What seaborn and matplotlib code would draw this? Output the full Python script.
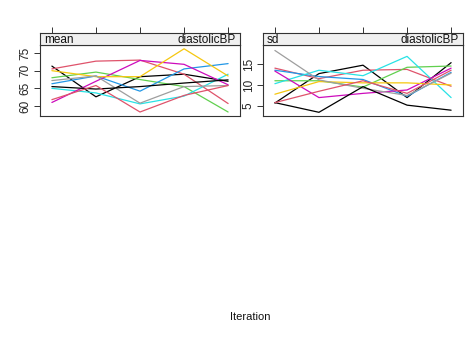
import numpy as np
import pandas as pd
import matplotlib
matplotlib.use("Agg")
import matplotlib.pyplot as plt
import seaborn as sns

# Trace of chain statistics for the imputed variable over the iterations
iterations = [1, 2, 3, 4, 5]
chains = list(range(1, 11))
chain_colors = ["#000000", "#DF536B", "#61D04F", "#2297E6", "#28E2E5",
                "#CD0BBC", "#F5C710", "#9E9E9E", "#000000", "#DF536B"]

mean_values = [
    [71.3, 62.6, 68.3, 69.0, 67.0],
    [70.5, 72.7, 73.0, 69.0, 60.7],
    [68.0, 69.6, 67.5, 65.5, 58.3],
    [66.3, 68.5, 64.2, 70.5, 72.0],
    [65.0, 63.7, 60.6, 62.8, 69.0],
    [61.0, 67.0, 72.9, 71.8, 66.0],
    [70.0, 68.3, 68.3, 76.2, 68.5],
    [67.2, 68.5, 60.8, 65.5, 65.8],
    [65.5, 64.8, 65.5, 66.5, 67.4],
    [61.8, 65.8, 58.3, 63.0, 65.8],
]
sd_values = [
    [5.7, 12.7, 14.7, 7.0, 15.3],
    [14.0, 11.5, 13.5, 13.7, 9.7],
    [11.0, 11.0, 9.5, 14.2, 14.5],
    [13.5, 12.0, 11.3, 7.3, 13.0],
    [10.3, 13.5, 12.2, 16.8, 7.0],
    [13.3, 7.0, 8.0, 8.8, 14.0],
    [7.8, 10.8, 10.5, 10.5, 10.0],
    [18.2, 11.2, 9.2, 7.5, 12.8],
    [5.8, 3.5, 9.6, 5.2, 4.0],
    [5.8, 8.5, 11.0, 8.0, 13.5],
]
variable = "diastolicBP"
panel_names = ["mean", "sd"]
mean_ticks = [60, 65, 70, 75]
sd_ticks = [5, 10, 15]

def long_table(values):
    rows = []
    for c, series in zip(chains, values):
        for it, v in zip(iterations, series):
            rows.append({"Iteration": it, "chain": c, "value": v})
    return pd.DataFrame(rows)

sns.set_style("white")
plt.rcParams["font.family"] = ["Liberation Sans", "DejaVu Sans"]

W, H = 474, 338
fig = plt.figure(figsize=(W / 100, H / 100), dpi=100)
fig.patch.set_facecolor("white")

panels = [
    (40, mean_values, mean_ticks, (57.17, 77.27)),
    (263, sd_values, sd_ticks, (2.62, 19.5)),
]
frame_col = "#333333"
for (x0, values, ticks, ylim), name in zip(panels, panel_names):
    ax = fig.add_axes([x0 / W, (H - 116) / H, 200 / W, 71 / H])
    df = long_table(values)
    sns.lineplot(data=df, x="Iteration", y="value", hue="chain",
                 palette=chain_colors, legend=False, ax=ax,
                 linewidth=0.9, estimator=None, sort=False)
    ax.set_xlim(0.73, 5.27)
    ax.set_ylim(*ylim)
    ax.set_xticks([])
    ax.set_yticks(ticks)
    ax.set_yticklabels([str(t) for t in ticks], rotation=90, va="center",
                       fontsize=8.5, color="#222222")
    ax.tick_params(axis="y", left=True, length=4, width=0.7, color=frame_col, pad=2)
    ax.set_xlabel("")
    ax.set_ylabel("")
    for s in ax.spines.values():
        s.set_color(frame_col)
        s.set_linewidth(0.8)

    # strip above the panel
    sax = fig.add_axes([x0 / W, (H - 45) / H, 200 / W, 12 / H])
    sax.set_facecolor("#F0F0F0")
    sax.set_xlim(0.73, 5.27)
    sax.set_ylim(0, 1)
    sax.set_yticks([])
    sax.set_xticks(iterations)
    sax.set_xticklabels([])
    sax.tick_params(axis="x", bottom=False, top=True, length=4.5, width=0.7,
                    color=frame_col, direction="out")
    for s in sax.spines.values():
        s.set_color(frame_col)
        s.set_linewidth(0.8)
    sax.text(0.02, 0.45, name, transform=sax.transAxes, ha="left", va="center",
             fontsize=8.5, color="#111111")
    sax.text(0.98, 0.45, variable, transform=sax.transAxes, ha="right", va="center",
             fontsize=8.5, color="#111111")

fig.text(250 / W, (H - 317) / H, "Iteration", ha="center", va="center",
         fontsize=8, color="#111111")

fig.savefig("out.png", dpi=100, facecolor="white")
